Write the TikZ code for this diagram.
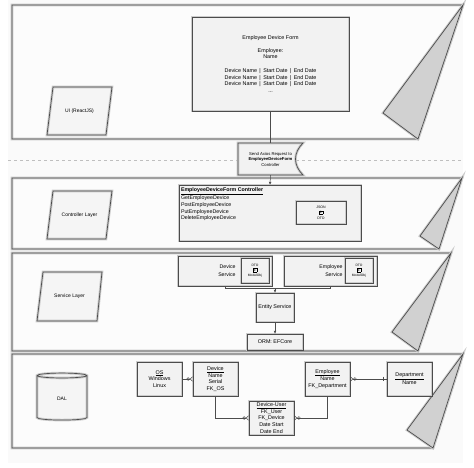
\documentclass[tikz,border=0pt]{standalone}
\usepackage{fontspec}
\setmainfont{Liberation Sans}
\newfontfamily\arrowfont{DejaVu Sans}
\usetikzlibrary{arrows.meta}
\usetikzlibrary{decorations.markings}
\usetikzlibrary{shapes.geometric}

\newcommand{\swapmark}{{\setlength{\fboxsep}{0.35pt}\setlength{\fboxrule}{0.25pt}\fbox{\arrowfont\fontsize{3.2}{3.2}\selectfont ↕}}}

\tikzset{
	emboss/.style={fill=#1,
		postaction={draw=black!20, line width=2.6pt},
		postaction={draw=black!70, line width=0.7pt}},
	layer/.style={emboss=black!1},
	fold/.style={emboss=black!18},
	box/.style={rectangle, emboss=black!5, align=center, inner sep=0pt,
		font=\fontsize{5.4}{6.7}\selectfont},
	dtobox/.style={box, minimum width=28pt, minimum height=25pt,
		font=\fontsize{3.3}{5.2}\selectfont},
	paratext/.style={inner sep=0pt, font=\fontsize{5}{6}\selectfont},
	many/.style={draw=black!70, line width=0.5pt,
		-{Circle[open,length=3.4pt,width=3.4pt] Straight Barb[reversed,length=2.4pt,width=4.6pt]}},
	onebar/.style={postaction={decorate},
		decoration={markings,
			mark=at position 4pt with {\draw[-, line width=0.5pt] (0,-2.4pt) -- (0,2.4pt);}}},
	link/.style={draw=black!70, line width=0.5pt}
}

\begin{document}
\begin{tikzpicture}[x=1pt,y=-1pt,>={Latex[length=3pt,width=2.8pt]}]
	\useasboundingbox (0,0) rectangle (474,467);
	\fill[black!2] (8,0) rectangle (463,463);
	\draw[black!25, dashed, line width=0.5pt] (8,160) -- (463,160);

	\draw[layer] (12,5) -- (463,5) -- (418,139) -- (12,139) -- cycle;
	\draw[fold] (463,5) -- (383,113) -- (418,139) -- cycle;
	\draw[layer] (12,178) -- (462,178) -- (439,249) -- (12,249) -- cycle;
	\draw[fold] (462,178) -- (420,236) -- (439,249) -- cycle;
	\draw[layer] (12,253) -- (451,253) -- (418,351) -- (12,351) -- cycle;
	\draw[fold] (451,253) -- (392,332) -- (418,351) -- cycle;
	\draw[layer] (12,354) -- (463,354) -- (433,448) -- (12,448) -- cycle;
	\draw[fold] (463,354) -- (407,430) -- (433,448) -- cycle;

	\draw[emboss=black!4] (53,87) -- (112,87) -- (106,135) -- (47,135) -- cycle;
	\node[paratext] (ui) at (79.5,111) {UI (ReactJS)};
	\draw[emboss=black!4] (53,191) -- (112,191) -- (106,239) -- (47,239) -- cycle;
	\node[paratext] (ctrllayer) at (79.5,215) {Controller Layer};
	\draw[emboss=black!4] (43,272) -- (102,272) -- (97,321) -- (37,321) -- cycle;
	\node[paratext] (svclayer) at (69.5,296.5) {Service Layer};
	\node[cylinder, shape border rotate=90, aspect=0.3, minimum width=50pt, minimum height=47pt,
		emboss=black!4, font=\fontsize{5}{6}\selectfont] (dal) at (62,398.5) {DAL};

	\node[box, minimum width=157pt, minimum height=94pt] (form) at (270.5,64)
		{Employee Device Form\\[6pt]
		Employee:\\Name\\[7pt]
		Device Name \,|\, Start Date \,|\, End Date\\
		Device Name \,|\, Start Date \,|\, End Date\\
		Device Name \,|\, Start Date \,|\, End Date\\
		...};

	\draw[emboss=black!5] (238,143) -- (303,143) .. controls (293,153) and (293,165) .. (303,175) -- (238,175) -- cycle;
	\node[minimum width=65pt, minimum height=32pt, inner sep=0pt, align=center,
		font=\fontsize{4.2}{5.5}\selectfont] (axios) at (270.5,159)
		{Send Axios Request to\\\textbf{EmployeeDeviceForm}\\Controller};

	\node[box, minimum width=182pt, minimum height=56pt] (ctrl) at (270,213) {};
	\node[anchor=north west, align=left, inner sep=0pt, font=\fontsize{5.3}{6.7}\selectfont] (ctrltext)
		at ([shift={(2pt,-3pt)}]ctrl.north west)
		{\underline{\textbf{EmployeeDeviceForm Controller}}\\GetEmployeeDevice\\PostEmployeeDevice\\PutEmployeeDevice\\DeleteEmployeeDevice};
	\node[box, minimum width=50pt, minimum height=23pt, font=\fontsize{3.5}{5.4}\selectfont] (json) at (321,212.5) {JSON\\\swapmark\\DTO};

	\node[box, minimum width=94pt, minimum height=30pt] (devsvc) at (225,271) {};
	\node[dtobox] (devdto) at (255,270.5) {DTO\\\swapmark\\ModelObj};
	\node[anchor=east, align=right, inner sep=0pt, font=\fontsize{5.2}{8}\selectfont] (devsvctext)
		at ([xshift=-5pt]devdto.west) {Device\\Service};
	\node[box, minimum width=93pt, minimum height=30pt] (empsvc) at (330.5,271) {};
	\node[dtobox] (empdto) at (359,270.5) {DTO\\\swapmark\\ModelObj};
	\node[anchor=east, align=right, inner sep=0pt, font=\fontsize{5.2}{8}\selectfont] (empsvctext)
		at ([xshift=-2pt]empdto.west) {Employee\\Service};

	\node[box, minimum width=38pt, minimum height=29pt] (entity) at (275,307.5) {Entity Service};
	\node[box, minimum width=56pt, minimum height=16pt] (orm) at (275,342) {ORM: EFCore};

	\node[box, minimum width=45pt, minimum height=34pt] (os) at (159.5,379) {\underline{OS}\\Windows\\Linux};
	\node[box, minimum width=45pt, minimum height=34pt] (device) at (215.5,379) {\underline{Device}\\Name\\Serial\\FK\_OS};
	\node[box, minimum width=45pt, minimum height=34pt] (employee) at (327.5,379) {\underline{Employee}\\Name\\FK\_Department};
	\node[box, minimum width=45pt, minimum height=34pt] (department) at (409.5,379) {\underline{Department}\\Name};
	\node[box, minimum width=45pt, minimum height=34pt] (devuser) at (271.5,418) {\underline{Device-User}\\FK\_User\\FK\_Device\\Date Start\\Date End};

	\draw[link] (form.south) -- (axios.north);
	\draw[link,->] (axios.south) -- (ctrl.north);
	\coordinate (svcjoin) at (275,288.5);
	\draw[link] (devsvc.south) |- (svcjoin) -| (empsvc.south);
	\draw[link,->] (svcjoin) -- (entity.north);
	\draw[link,->] (entity.south) -- (orm.north);

	\draw[many] (os) -- (device);
	\draw[many, onebar] (department) -- (employee);
	\draw[many] (device.south) |- (devuser.west);
	\draw[many] (employee.south) |- (devuser.east);
\end{tikzpicture}
\end{document}
